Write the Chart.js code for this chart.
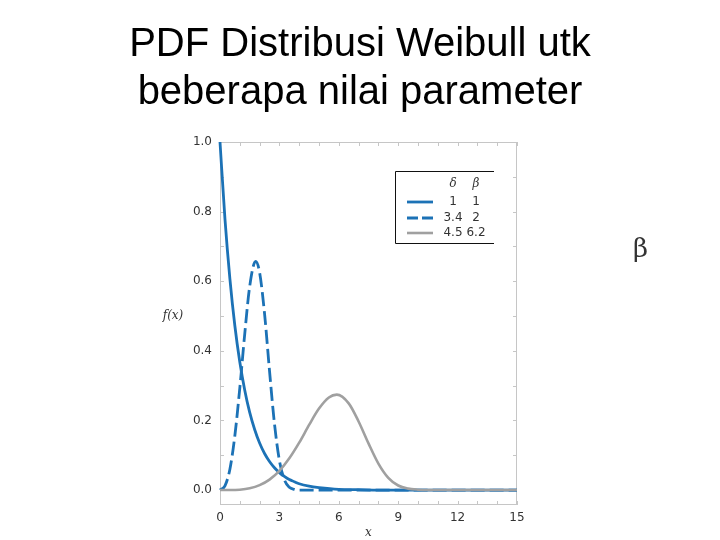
<!DOCTYPE html>
<html>
<head>
<meta charset="utf-8">
<script src="https://cdn.jsdelivr.net/npm/chart.js@4.4.0/dist/chart.umd.min.js"></script>
<style>
  html, body { margin: 0; padding: 0; background: #fff; }
  #wrap { position: relative; width: 720px; height: 540px; overflow: hidden; }
  #chart { position: absolute; left: 0; top: 0; }
  .title { position: absolute; left: 0; width: 720px; text-align: center;
           font: 40px/48px "Liberation Sans", Arial, sans-serif; color: #000; }
  #beta { position: absolute; left: 633px; top: 233px; font: 26px "DejaVu Serif", serif; color: #333; }
</style>
</head>
<body>
<div id="wrap">
  <canvas id="chart" width="720" height="540"></canvas>
  <div class="title" style="top:18px">PDF Distribusi Weibull utk</div>
  <div class="title" style="top:66px">beberapa nilai parameter</div>
  <div id="beta">β</div>
</div>
<script>
// values
const xSolid = [0, 0.25, 0.5, 0.75, 1, 1.25, 1.5, 1.75, 2, 2.25, 2.5, 2.75, 3, 3.25, 3.5, 3.75, 4, 4.5, 5, 6, 7, 8, 15];
const ySolid = [1.000, 0.779, 0.607, 0.472, 0.368, 0.287, 0.223, 0.174, 0.135, 0.105, 0.082, 0.064, 0.050, 0.039, 0.030, 0.024, 0.018, 0.011, 0.007, 0.002, 0.001, 0, 0];

const xDashed = [0, 0.25, 0.5, 0.75, 1, 1.25, 1.5, 1.8, 2, 2.25, 2.5, 2.75, 3, 3.25, 3.5, 3.75, 4, 15];
const yDashed = [0, 0.012, 0.060, 0.156, 0.293, 0.449, 0.585, 0.657, 0.625, 0.507, 0.343, 0.191, 0.085, 0.030, 0.008, 0.002, 0, 0];

const xGray = [0, 0.5, 1, 1.5, 2, 2.5, 3, 3.5, 4, 4.5, 5, 5.5, 5.9, 6.5, 7, 7.5, 8, 8.5, 9, 9.5, 10, 10.5, 15];
const yGray = [0, 0, 0.001, 0.005, 0.014, 0.030, 0.055, 0.091, 0.136, 0.187, 0.234, 0.266, 0.274, 0.249, 0.197, 0.134, 0.076, 0.035, 0.013, 0.004, 0.001, 0, 0];

const deltaVals = ['1', '3.4', '4.5'];
const betaVals = ['1', '2', '6.2'];

const xTicks = [0, 3, 6, 9, 12, 15];
const yTicks = [0, 0.2, 0.4, 0.6, 0.8, 1.0];
const xMinor = [0, 1, 2, 3, 4, 5, 6, 7, 8, 9, 10, 11, 12, 13, 14, 15];
const yMinor = [0, 0.1, 0.2, 0.3, 0.4, 0.5, 0.6, 0.7, 0.8, 0.9, 1.0];

const BLUE = '#1c72b6';
const GRAY = '#a0a0a0';

const pts = (xs, ys) => xs.map((x, i) => ({ x, y: ys[i] }));

// frame and inward tick marks
const frameTicks = {
  id: 'frameTicks',
  beforeDatasetsDraw(chart) {
    const { ctx, chartArea: a, scales: { x, y } } = chart;
    ctx.save();
    ctx.strokeStyle = '#c6c6c6';
    ctx.lineWidth = 1;
    ctx.strokeRect(a.left + 0.5, a.top + 0.5, a.right - a.left - 1, a.bottom - a.top - 1);
    ctx.beginPath();
    xMinor.forEach(v => {
      const px = Math.round(x.getPixelForValue(v)) + 0.5;
      ctx.moveTo(px, a.bottom); ctx.lineTo(px, a.bottom - 4);
      ctx.moveTo(px, a.top); ctx.lineTo(px, a.top + 4);
    });
    yMinor.forEach(v => {
      const py = Math.round(y.getPixelForValue(v)) + 0.5;
      ctx.moveTo(a.left, py); ctx.lineTo(a.left + 4, py);
      ctx.moveTo(a.right, py); ctx.lineTo(a.right - 4, py);
    });
    ctx.stroke();
    // horizontal y label
    ctx.fillStyle = '#333';
    ctx.font = 'italic 12px "DejaVu Serif", serif';
    ctx.textAlign = 'center';
    ctx.textBaseline = 'middle';
    ctx.fillText('f(x)', a.left - 47, y.getPixelForValue(0.5));
    ctx.restore();
  }
};

// legend with delta / beta columns
const legendBox = {
  id: 'legendBox',
  afterDatasetsDraw(chart) {
    const { ctx } = chart;
    const L = 395, R = 494, T = 171, B = 243;
    ctx.save();
    ctx.fillStyle = '#fff';
    ctx.fillRect(L, T, R - L, B - T);
    ctx.strokeStyle = '#111';
    ctx.lineWidth = 1;
    ctx.beginPath();
    ctx.moveTo(R, T + 0.5); ctx.lineTo(L + 0.5, T + 0.5);
    ctx.lineTo(L + 0.5, B + 0.5); ctx.lineTo(R, B + 0.5);
    ctx.stroke();

    ctx.fillStyle = '#333';
    ctx.textAlign = 'center';
    ctx.textBaseline = 'middle';
    ctx.font = 'italic 12px "DejaVu Serif", serif';
    ctx.fillText('δ', 453, 184);
    ctx.fillText('β', 476, 184);

    const rowY = [202, 218, 233];
    ctx.font = '12px "DejaVu Sans", sans-serif';
    chart.data.datasets.forEach((ds, i) => {
      ctx.strokeStyle = ds.borderColor;
      ctx.lineWidth = ds.borderWidth;
      ctx.setLineDash(ds.borderDash && ds.borderDash.length ? [11, 4] : []);
      ctx.beginPath();
      ctx.moveTo(407, rowY[i]); ctx.lineTo(433, rowY[i]);
      ctx.stroke();
      ctx.setLineDash([]);
      ctx.fillText(deltaVals[i], 453, rowY[i]);
      ctx.fillText(betaVals[i], 476, rowY[i]);
    });
    ctx.restore();
  }
};

const tickFont = { family: '"DejaVu Sans", sans-serif', size: 12 };

new Chart(document.getElementById('chart').getContext('2d'), {
  type: 'line',
  data: {
    datasets: [
      {
        label: 'd=1 b=1',
        data: pts(xSolid, ySolid),
        borderColor: BLUE,
        borderWidth: 2.8,
        pointRadius: 0,
        cubicInterpolationMode: 'monotone',
        fill: false,
        clip: false,
        order: 2,
      },
      {
        label: 'd=3.4 b=2',
        data: pts(xDashed, yDashed),
        borderColor: BLUE,
        borderWidth: 2.8,
        borderDash: [14, 5],
        pointRadius: 0,
        cubicInterpolationMode: 'monotone',
        fill: false,
        clip: false,
        order: 1,
      },
      {
        label: 'd=4.5 b=6.2',
        data: pts(xGray, yGray),
        borderColor: GRAY,
        borderWidth: 2.6,
        pointRadius: 0,
        cubicInterpolationMode: 'monotone',
        fill: false,
        clip: false,
        order: 0,
      }
    ]
  },
  options: {
    responsive: false,
    animation: false,
    devicePixelRatio: 1,
    layout: { padding: { left: 160, right: 203, top: 142, bottom: 0 } },
    plugins: {
      legend: { display: false },
      tooltip: { enabled: false },
      title: { display: false }
    },
    scales: {
      x: {
        type: 'linear',
        min: 0, max: 15,
        afterBuildTicks: s => { s.ticks = xTicks.map(v => ({ value: v })); },
        afterFit: s => { s.height = 35; },
        ticks: { color: '#333', font: tickFont, padding: 6, maxRotation: 0, callback: v => String(v) },
        grid: { display: false, drawTicks: false },
        border: { display: false },
        title: { display: true, text: 'x', color: '#333', font: { family: '"DejaVu Serif", serif', size: 12, style: 'italic' }, padding: { top: 0, bottom: 0 } }
      },
      y: {
        type: 'linear',
        min: -0.043, max: 1.0,
        afterBuildTicks: s => { s.ticks = yTicks.map(v => ({ value: v })); },
        afterFit: s => { s.width = 60; },
        ticks: { color: '#333', font: tickFont, padding: 8, callback: v => v.toFixed(1) },
        grid: { display: false, drawTicks: false },
        border: { display: false }
      }
    }
  },
  plugins: [frameTicks, legendBox]
});
</script>
</body>
</html>
